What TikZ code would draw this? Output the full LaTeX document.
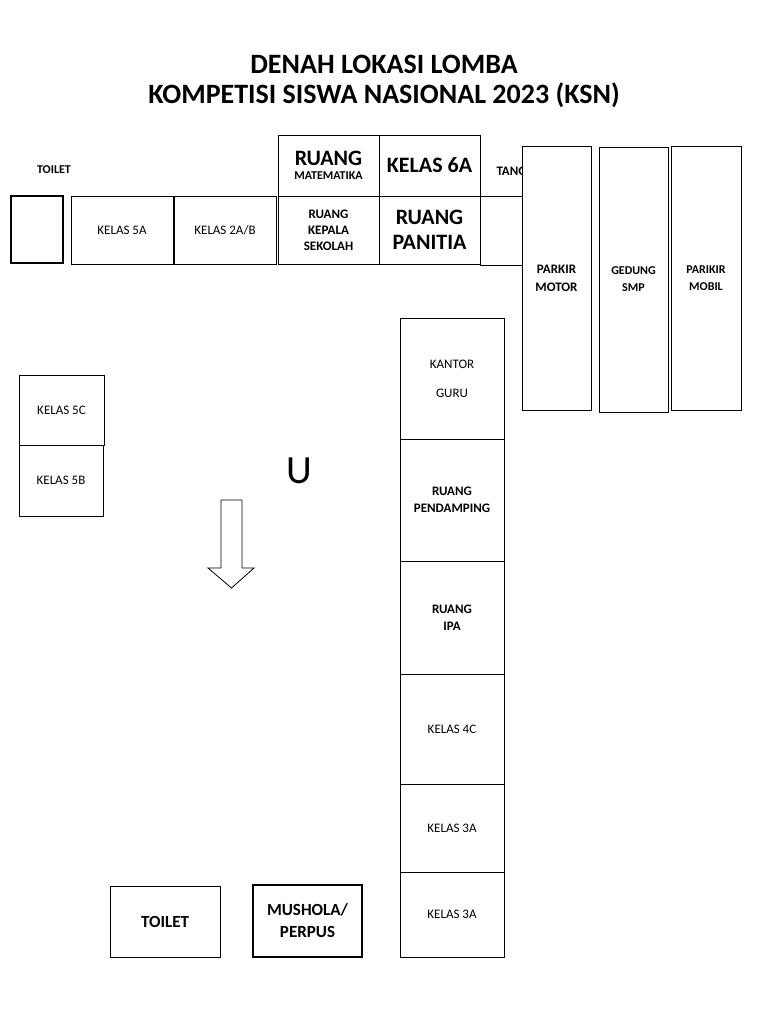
\documentclass[tikz,border=0pt]{standalone}
\usepackage{fontspec}
\setmainfont{Carlito}
\begin{document}
\begin{tikzpicture}[x=1pt,y=-1pt,
  rm/.style={draw,line width=0.9pt,fill=white,align=center,font=\fontsize{13}{16}\selectfont,inner sep=0pt},
  bx/.style={rm,font=\bfseries\fontsize{13}{16}\selectfont}]
\useasboundingbox (0,0) rectangle (768,1024);
\node[font=\bfseries\fontsize{28}{32}\selectfont] (t1) at (384,64) {DENAH LOKASI LOMBA};
\node[font=\bfseries\fontsize{28}{32}\selectfont] (t2) at (384,95) {KOMPETISI SISWA NASIONAL 2023 (KSN)};
\node[font=\bfseries\fontsize{12}{14}\selectfont] (tl) at (54,170) {TOILET};
\draw[line width=1.2pt] (11,196) rectangle (63,263);
\node[rm,minimum width=102,minimum height=68] (k5a) at (122,230) {KELAS 5A};
\node[rm,minimum width=102,minimum height=68] (k2ab) at (225,230) {KELAS 2A/B};
\node[rm,minimum width=101,minimum height=61,font=\bfseries\fontsize{12}{12}\selectfont] (mat) at (328.5,165.5) {{\fontsize{22}{22}\selectfont RUANG}\\[2pt]MATEMATIKA};
\node[rm,minimum width=101,minimum height=61,font=\bfseries\fontsize{22}{24}\selectfont] (k6a) at (429.5,165.5) {KELAS 6A};
\node[bx,minimum width=101,minimum height=68] (kep) at (328.5,230) {RUANG\\KEPALA\\SEKOLAH};
\node[rm,minimum width=101,minimum height=68,font=\bfseries\fontsize{22}{25}\selectfont] (pan) at (429.5,230) {RUANG\\PANITIA};
\node[font=\bfseries\fontsize{13}{14}\selectfont,anchor=west] (tang) at (493,171) {TANGGA};
\draw[line width=0.9pt] (480,196) -- (522,196) (480,265) -- (522,265);
\node[bx,minimum width=69,minimum height=264,font=\bfseries\fontsize{13}{18}\selectfont] (pm) at (556.5,278) {PARKIR\\MOTOR};
\node[bx,minimum width=69,minimum height=265,font=\bfseries\fontsize{12}{17}\selectfont] (smp) at (633.5,279.5) {GEDUNG\\SMP};
\node[bx,minimum width=70,minimum height=264,font=\bfseries\fontsize{12}{17}\selectfont] (mob) at (706,278) {PARIKIR\\MOBIL};
\node[rm,minimum width=85,minimum height=70] (k5c) at (61.5,410) {KELAS 5C};
\node[rm,minimum width=84,minimum height=71] (k5b) at (61,480.5) {KELAS 5B};
\node[rm,minimum width=104,minimum height=121,font=\fontsize{13}{29}\selectfont] (kg) at (452,378.5) {KANTOR\\GURU};
\node[bx,minimum width=104,minimum height=122,font=\bfseries\fontsize{13}{17}\selectfont] (pd) at (452,500) {RUANG\\PENDAMPING};
\node[bx,minimum width=104,minimum height=113,font=\bfseries\fontsize{13}{17}\selectfont] (ipa) at (452,617.5) {RUANG\\IPA};
\node[rm,minimum width=104,minimum height=110] (k4c) at (452,729) {KELAS 4C};
\node[rm,minimum width=104,minimum height=88] (k3a) at (452,828) {KELAS 3A};
\node[rm,minimum width=104,minimum height=85] (k3b) at (452,914.5) {KELAS 3A};
\node[font=\fontsize{40}{44}\selectfont] (u) at (299,471) {U};
\draw[line width=0.8pt] (221,500) -- (242,500) -- (242,568) -- (254,568) -- (231.5,588) -- (208,568) -- (221,568) -- cycle;
\node[rm,minimum width=110,minimum height=71,font=\bfseries\fontsize{17}{20}\selectfont] (tb) at (165,921.5) {TOILET};
\node[rm,line width=1.3pt,minimum width=109,minimum height=72,font=\bfseries\fontsize{17}{22}\selectfont] (mu) at (307.5,921) {MUSHOLA/\\PERPUS};
\end{tikzpicture}
\end{document}
